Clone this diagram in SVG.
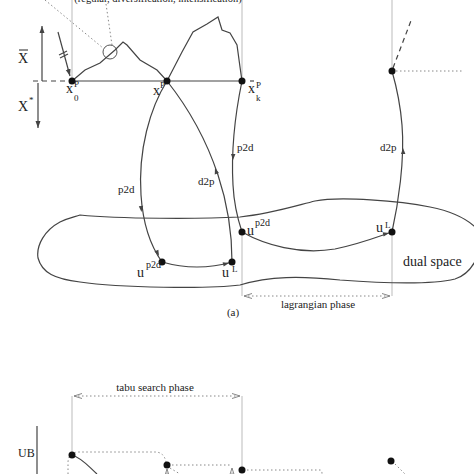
<svg xmlns="http://www.w3.org/2000/svg" xmlns:xlink="http://www.w3.org/1999/xlink" width="474" height="474" viewBox="0 0 474 474">
<style>
.c{fill:none;stroke:#444;stroke-width:1.2}
.g{fill:none;stroke:#bbb;stroke-width:1}
.d{fill:none;stroke:#888;stroke-width:1;stroke-dasharray:1.5 2.5}
.dash{fill:none;stroke:#444;stroke-width:1.2;stroke-dasharray:5 4}
.t{font-family:"Liberation Serif",serif;fill:#222}
.dot{fill:#111}
.ah{fill:#444}
</style>
<defs>
<path id="ah" d="M0,0 L-6,-2.2 L-6,2.2 Z"/>
<marker id="open" markerWidth="10" markerHeight="8" refX="9" refY="4" orient="auto-start-reverse" markerUnits="userSpaceOnUse">
<path d="M1,1.5 L9,4 L1,6.5" fill="none" stroke="#888" stroke-width="1"/>
</marker>
<marker id="fill" markerWidth="8" markerHeight="8" refX="7" refY="4" orient="auto" markerUnits="userSpaceOnUse">
<path d="M0,1.5 L7,4 L0,6.5 Z" fill="#444"/>
</marker>
</defs>

<g id="guides">
<line class="g" x1="72" y1="0" x2="72" y2="81"/>
<line class="g" x1="242" y1="0" x2="242" y2="81"/>
<line class="g" x1="392" y1="0" x2="392" y2="71"/>
<line class="g" x1="242" y1="232" x2="242" y2="296"/>
<line class="g" x1="392" y1="232" x2="392" y2="296"/>
<line class="g" x1="72" y1="396" x2="72" y2="455"/>
<line class="g" x1="242" y1="396" x2="242" y2="470"/>
</g>

<g id="top-label">
<text class="t" x="158" y="2" font-size="10.5" text-anchor="middle">(regular, diversification, intensification)</text>
<line class="d" x1="45" y1="0" x2="103" y2="48"/>
<line class="d" x1="106" y1="4" x2="112" y2="45"/>
<circle cx="110" cy="52" r="7" fill="none" stroke="#555" stroke-width="1"/>
</g>

<g id="axes">
<line class="dash" x1="33" y1="81" x2="70" y2="81"/>
<line class="c" x1="42" y1="81" x2="42" y2="26" marker-end="url(#fill)"/>
<line class="c" x1="38" y1="83" x2="38" y2="128" marker-end="url(#fill)"/>
<text class="t" x="18" y="63" font-size="14">X</text>
<line x1="19" y1="50" x2="28" y2="50" stroke="#222" stroke-width="1"/>
<text class="t" x="18" y="111" font-size="14">X</text>
<text class="t" x="29" y="103" font-size="9">*</text>
<text class="t" x="18" y="457" font-size="12">UB</text>
<line x1="37" y1="426" x2="37" y2="474" stroke="#444" stroke-width="1.2"/>
</g>

<g id="connectors">
<line class="c" x1="58" y1="32" x2="70" y2="76" marker-end="url(#fill)"/>
<line class="c" x1="59" y1="55" x2="67" y2="51"/>
<line class="c" x1="60" y1="58" x2="68" y2="54"/>
<line class="c" x1="72" y1="81" x2="242" y2="81"/>
<line class="c" x1="250" y1="81" x2="254" y2="81"/>
<path class="c" d="M72,81 L85,70 L100,63 L115,50 L123,42 L127,45 L140,60 L157,70 L167,81 L182,52 L193,32 L207,24 L218,17 L222,30 L230,33 L237,45 L240,67 L242,81"/>
<path class="c" d="M167,81 C150,108 138,150 141,195 C143,225 152,248 162,262"/>
<path class="c" d="M232,262 C232,235 228,205 218,175 C208,145 190,110 167,81"/>
<path class="c" d="M162,262 Q197,272 232,262"/>
<path class="c" d="M242,81 C236,110 231,150 233,185 C234,205 238,220 242,232"/>
<path class="c" d="M392,232 C398,205 405,160 402,125 C400,100 396,85 392,71"/>
<path class="c" d="M242,232 C265,245 300,255 335,249 C360,244 380,236 392,232"/>
<line class="dash" x1="393" y1="68" x2="412" y2="18"/>
<line class="d" x1="392" y1="71" x2="462" y2="71"/>
<use xlink:href="#ah" class="ah" transform="translate(141.5,212) rotate(85)"/>
<use xlink:href="#ah" class="ah" transform="translate(159,256) rotate(64)"/>
<use xlink:href="#ah" class="ah" transform="translate(215,168) rotate(-108)"/>
<use xlink:href="#ah" class="ah" transform="translate(229,263) rotate(-14)"/>
<use xlink:href="#ah" class="ah" transform="translate(233,160) rotate(92)"/>
<use xlink:href="#ah" class="ah" transform="translate(403,148) rotate(-92)"/>
<use xlink:href="#ah" class="ah" transform="translate(389,233) rotate(-14)"/>
<line class="d" x1="244" y1="296" x2="390" y2="296" marker-start="url(#open)" marker-end="url(#open)"/>
<line class="d" x1="74" y1="396" x2="240" y2="396" marker-start="url(#open)" marker-end="url(#open)"/>
<path class="d" d="M68,474 L68,463 Q68,452 79,452 L155,452 Q164,452 166,462"/>
<path class="c" d="M72,455 C82,458 88,466 97,474"/>
<line class="d" x1="167" y1="474" x2="167" y2="469" marker-end="url(#open)"/>
<line class="d" x1="172" y1="465" x2="232" y2="465"/>
<line class="d" x1="232" y1="474" x2="232" y2="468" marker-end="url(#open)"/>
<line class="d" x1="170" y1="468" x2="180" y2="474"/>
<path class="d" d="M247,470 L320,470 Q322,470 322,474"/>
<line class="d" x1="395" y1="464" x2="405" y2="474"/>
</g>

<g id="dual-space">
<path class="c" d="M80,215 C120,219 200,219 240,217 C270,214 295,206 315,201 C340,196 400,201 430,207 C455,212 470,220 480,232 L480,250 C476,262 468,275 455,279 C430,285 380,283 340,280 C300,276 270,276 240,285 C210,289 120,288 80,282 C55,279 42,273 38,258 C36,245 45,230 60,222 C68,218 74,217 80,215 Z"/>
<text class="t" x="403" y="266" font-size="14">dual space</text>
</g>

<g id="x0p"><circle class="dot" cx="72" cy="81" r="3.5"/>
<text class="t" x="66" y="93" font-size="14">x</text><text class="t" x="74" y="87" font-size="9">P</text><text class="t" x="74" y="101" font-size="9">0</text></g>
<g id="xp"><circle class="dot" cx="167" cy="81" r="3.5"/>
<text class="t" x="153" y="95" font-size="14">x</text><text class="t" x="160" y="88" font-size="9">P</text></g>
<g id="xkp"><circle class="dot" cx="242" cy="81" r="3.5"/>
<text class="t" x="248" y="93" font-size="14">x</text><text class="t" x="256" y="88" font-size="9">P</text><text class="t" x="256" y="101" font-size="9">k</text></g>
<g id="xr"><circle class="dot" cx="392" cy="71" r="3.5"/></g>

<g id="up2d-a"><circle class="dot" cx="162" cy="262" r="3.5"/>
<text class="t" x="137" y="277" font-size="14">u</text><text class="t" x="146" y="268" font-size="10">p2d</text></g>
<g id="ul-a"><circle class="dot" cx="232" cy="262" r="3.5"/>
<text class="t" x="222" y="277" font-size="14">u</text><text class="t" x="232" y="272" font-size="9">L</text></g>
<g id="up2d-b"><circle class="dot" cx="242" cy="232" r="3.5"/>
<text class="t" x="247" y="235" font-size="14">u</text><text class="t" x="255" y="226" font-size="10">p2d</text></g>
<g id="ul-b"><circle class="dot" cx="392" cy="232" r="3.5"/>
<text class="t" x="376" y="232" font-size="14">u</text><text class="t" x="385" y="228" font-size="9">L</text></g>

<g id="labels">
<text class="t" x="118" y="193" font-size="11">p2d</text>
<text class="t" x="198" y="185" font-size="11">d2p</text>
<text class="t" x="237" y="151" font-size="11">p2d</text>
<text class="t" x="380" y="151" font-size="11">d2p</text>
<text class="t" x="318" y="308" font-size="11" text-anchor="middle">lagrangian phase</text>
<text class="t" x="233" y="316" font-size="11" text-anchor="middle">(a)</text>
<text class="t" x="155" y="391" font-size="11" text-anchor="middle">tabu search phase</text>
</g>

<g id="bottom-nodes">
<circle class="dot" cx="72" cy="455" r="3.5"/>
<circle class="dot" cx="167" cy="465" r="3.5"/>
<circle class="dot" cx="242" cy="470" r="3.5"/>
<circle class="dot" cx="391" cy="461" r="3.5"/>
</g>
</svg>
